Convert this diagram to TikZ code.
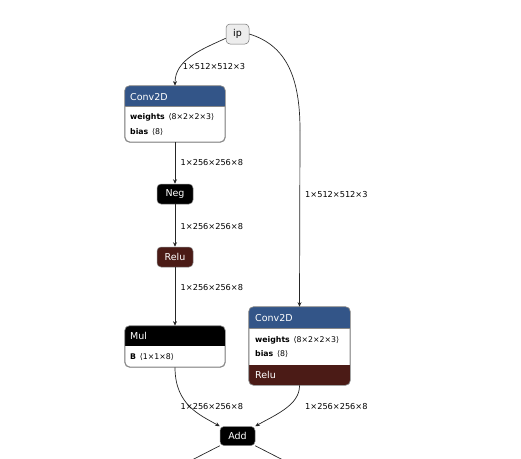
\documentclass[tikz,border=0pt]{standalone}
\usepackage{fontspec}
\setmainfont{DejaVu Sans}
\usetikzlibrary{arrows.meta}
\definecolor{convblue}{HTML}{335588}
\definecolor{actbrown}{HTML}{4B1B16}
\definecolor{boxgray}{HTML}{888888}
\tikzset{
  edge/.style={draw=black!85, line width=0.7pt, -{Stealth[length=4.5pt,width=4pt]}},
  plainedge/.style={draw=black!85, line width=0.7pt},
  lbl/.style={font=\fontsize{8.2}{9}\selectfont, inner sep=0pt, anchor=west},
  smallop/.style={rectangle, rounded corners=4pt, draw=boxgray, line width=0.5pt, text=white, font=\fontsize{9.5}{10}\selectfont, minimum height=20pt, inner sep=0pt},
  bigbox/.style={rectangle, rounded corners=5pt, draw=boxgray, line width=0.7pt, minimum width=100pt, inner sep=0pt},
  hdr/.style={text=white, font=\fontsize{9.5}{10}\selectfont, anchor=west, inner sep=0pt},
  attr/.style={font=\fontsize{7.8}{9}\selectfont, anchor=west, inner sep=0pt},
}
\begin{document}
\begin{tikzpicture}[x=1pt,y=1pt]
\useasboundingbox (0,0) rectangle (521,-458);

% ip
\node[smallop, fill=black!7, text=black, draw=black!55, minimum width=23pt] (ip) at (237.5,-34) {ip};

% Conv2D left
\node[bigbox, minimum height=56pt] (conv1) at (175,-114) {};
\begin{scope}
\clip[rounded corners=5pt] (conv1.north west) rectangle (conv1.south east);
\fill[convblue] (conv1.north west) rectangle ([yshift=-21pt]conv1.north east);
\draw[boxgray, line width=0.5pt] ([yshift=-21pt]conv1.north west) -- ([yshift=-21pt]conv1.north east);
\end{scope}
\draw[boxgray, line width=0.7pt, rounded corners=5pt] (conv1.north west) rectangle (conv1.south east);
\node[hdr] (conv1t) at (130,-97) {Conv2D};
\node[attr] (conv1w) at (130,-117.5) {\textbf{weights}\, ⟨8×2×2×3⟩};
\node[attr] (conv1b) at (130,-132) {\textbf{bias}\, ⟨8⟩};

% Neg
\node[smallop, fill=black, minimum width=36pt] (neg) at (175,-194) {Neg};
% Relu
\node[smallop, fill=actbrown, minimum width=36pt] (relu1) at (175,-257) {Relu};

% Mul
\node[bigbox, minimum height=41pt] (mul) at (175,-346.5) {};
\begin{scope}
\clip[rounded corners=5pt] (mul.north west) rectangle (mul.south east);
\fill[black] (mul.north west) rectangle ([yshift=-20pt]mul.north east);
\end{scope}
\draw[boxgray, line width=0.7pt, rounded corners=5pt] (mul.north west) rectangle (mul.south east);
\node[hdr] (mult) at (130,-336) {Mul};
\node[attr] (mulb) at (130,-357) {\textbf{B}\, ⟨1×1×8⟩};

% Conv2D right
\node[bigbox, minimum width=101pt, minimum height=78pt] (conv2) at (299.5,-346) {};
\begin{scope}
\clip[rounded corners=5pt] (conv2.north west) rectangle (conv2.south east);
\fill[convblue] (conv2.north west) rectangle ([yshift=-22pt]conv2.north east);
\fill[actbrown] ([yshift=20pt]conv2.south west) rectangle (conv2.south east);
\draw[boxgray, line width=0.5pt] ([yshift=-22pt]conv2.north west) -- ([yshift=-22pt]conv2.north east);
\end{scope}
\draw[boxgray, line width=0.7pt, rounded corners=5pt] (conv2.north west) rectangle (conv2.south east);
\node[hdr] (conv2t) at (255,-318) {Conv2D};
\node[attr] (conv2w) at (255,-340) {\textbf{weights}\, ⟨8×2×2×3⟩};
\node[attr] (conv2b) at (255,-354) {\textbf{bias}\, ⟨8⟩};
\node[hdr] (conv2r) at (255,-375) {Relu};

% Add
\node[smallop, fill=black, minimum width=35pt, minimum height=19pt] (add) at (237.5,-436) {Add};

% edges
\draw[edge] (ip.200) .. controls (200,-50) and (175,-60) .. (conv1.north);
\coordinate (rb) at (300,-130);
\draw[plainedge] (ip.east) .. controls (285,-45) and (300,-75) .. (rb);
\draw[edge] (rb) -- (conv2.north);
\draw[edge] (conv1.south) -- (neg.north);
\draw[edge] (neg.south) -- (relu1.north);
\draw[edge] (relu1.south) -- (mul.north);
\draw[edge] (mul.south) .. controls (175,-405) and (200,-415) .. (add.north west);
\draw[edge] (conv2.south) .. controls (300,-405) and (275,-415) .. (add.north east);
\coordinate (o1) at (190,-461);
\coordinate (o2) at (285,-461);
\draw[plainedge] (add.south west) -- (o1);
\draw[plainedge] (add.south east) -- (o2);

% labels
\node[lbl, anchor=center] (l1) at (214,-67) {1×512×512×3};
\node[lbl] (l2) at (180.5,-163) {1×256×256×8};
\node[lbl] (l3) at (180.5,-227) {1×256×256×8};
\node[lbl] (l4) at (180.5,-288) {1×256×256×8};
\node[lbl] (l5) at (305,-195) {1×512×512×3};
\node[lbl] (l6) at (180.5,-407) {1×256×256×8};
\node[lbl] (l7) at (305,-407) {1×256×256×8};
\end{tikzpicture}
\end{document}
